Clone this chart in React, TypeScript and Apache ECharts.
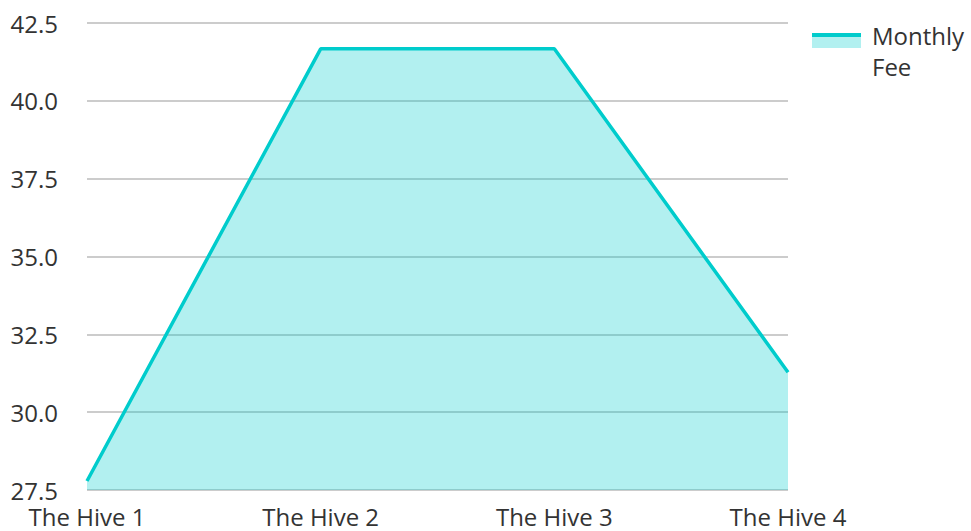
import React, { useEffect, useRef } from "react";
import * as echarts from "echarts";

const categories = ["The Hive 1", "The Hive 2", "The Hive 3", "The Hive 4"];
const monthlyFee = [27.79, 41.67, 41.67, 31.28];
const seriesName = "Monthly Fee";
const yMin = 27.5;
const yMax = 42.5;
const yInterval = 2.5;

const LINE = "#00cccc";
const FONT = "Open Sans";
const TEXT = "#333333";

export default function App() {
  const ref = useRef<HTMLDivElement>(null);
  useEffect(() => {
    if (!ref.current) return;
    const chart = echarts.init(ref.current, null, { renderer: "svg" });
    chart.setOption({
      animation: false,
      textStyle: { fontFamily: FONT },
      grid: { left: 87, right: 183, top: 23, bottom: 41, containLabel: false },
      xAxis: {
        type: "category",
        data: categories,
        boundaryGap: false,
        axisLine: { show: false },
        axisTick: { show: false },
        axisLabel: { color: TEXT, fontSize: 24, fontFamily: FONT, margin: 14 },
        splitLine: { show: false },
      },
      yAxis: {
        type: "value",
        min: yMin,
        max: yMax,
        interval: yInterval,
        axisLine: { show: false },
        axisTick: { show: false },
        axisLabel: {
          color: TEXT,
          fontSize: 24,
          fontFamily: FONT,
          margin: 29,
          formatter: (v: number) => v.toFixed(1),
        },
        splitLine: { show: true, lineStyle: { color: "#cccccc", width: 2 } },
      },
      series: [
        {
          name: seriesName,
          type: "line",
          data: monthlyFee,
          symbol: "none",
          lineStyle: { color: LINE, width: 3.5 },
          itemStyle: { color: LINE },
          areaStyle: { color: LINE, opacity: 0.3, origin: "start" },
          z: 1,
        },
      ],
      graphic: [
        {
          type: "rect",
          left: 812,
          top: 33,
          shape: { width: 49, height: 15 },
          style: { fill: "rgba(0,204,204,0.3)" },
        },
        {
          type: "rect",
          left: 812,
          top: 33,
          shape: { width: 49, height: 4 },
          style: { fill: LINE },
        },
        {
          type: "text",
          left: 872,
          top: 20,
          style: {
            text: seriesName.replace(" ", "\n"),
            fontSize: 24,
            fontFamily: FONT,
            fill: TEXT,
            lineHeight: 31,
          },
        },
      ],
    });
    return () => chart.dispose();
  }, []);
  return <div ref={ref} style={{ width: 971, height: 531, position: "absolute", left: 0, top: 0 }} />;
}
